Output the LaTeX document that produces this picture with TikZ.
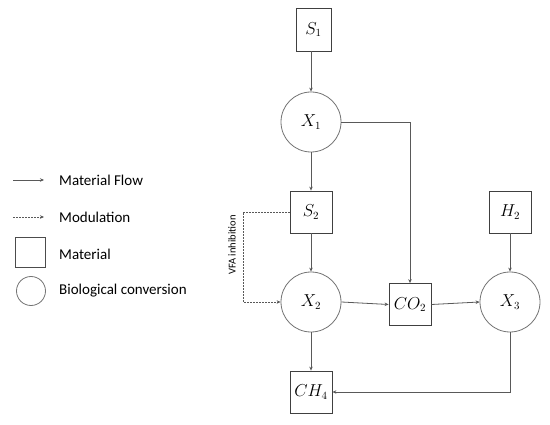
\documentclass[tikz,border=0pt]{standalone}
\usepackage{fontspec}
\setmainfont{Carlito}
\usetikzlibrary{arrows.meta}
\tikzset{
  ln/.style={draw=black!65, line width=0.8pt},
  flow/.style={ln, -{Stealth[length=4pt,width=3.5pt]}},
  modl/.style={draw=black!65, line width=0.7pt, dash pattern=on 1.5pt off 1.5pt, -{Stealth[length=4pt,width=3.5pt]}},
  mat/.style={draw=black!75, line width=0.8pt, minimum width=42pt, minimum height=42pt, inner sep=0pt, font=\fontsize{16}{19}\selectfont},
  bio/.style={draw=black!55, line width=0.8pt, circle, minimum size=60pt, inner sep=0pt, font=\fontsize{16}{19}\selectfont},
  lg/.style={anchor=west, font=\fontsize{15}{17}\selectfont, inner sep=0pt}
}
\begin{document}
\begin{tikzpicture}[x=1pt,y=-1pt]
\useasboundingbox (0,0) rectangle (550,425);
% nodes
\node[mat, minimum width=35pt, minimum height=43pt] (S1) at (313.5,29.5) {$S_1$};
\node[bio] (X1) at (311,122) {$X_1$};
\node[mat] (S2) at (311,212) {$S_2$};
\node[bio] (X2) at (311,302) {$X_2$};
\node[mat] (CO2) at (410,304.5) {$CO_2$};
\node[bio] (X3) at (510,302) {$X_3$};
\node[mat] (H2) at (510,212) {$H_2$};
\node[mat] (CH4) at (311,392) {$CH_4$};
% connectors
\draw[flow] (X1.north |- S1.south) -- (X1.north);
\draw[flow] (X1.south) -- (S2.north);
\draw[flow] (S2.south) -- (X2.north);
\draw[flow] (X2.south) -- (CH4.north);
\draw[flow] (X1.east) -| (CO2.north);
\draw[flow] (X2.east) -- (CO2.west);
\draw[flow] (CO2.east) -- (X3.west);
\draw[flow] (H2.south) -- (X3.north);
\draw[flow] (X3.south) |- (CH4.east);
\coordinate (dk) at (243,212);
\draw[modl] (S2.west) -- (dk) |- (X2.west);
\node[rotate=90, font=\fontsize{10.5}{12}\selectfont, inner sep=0pt] (vfa) at (232,245) {VFA inhibition};
% legend
\coordinate (a1) at (13,180);
\coordinate (a2) at (44,180);
\draw[flow, line width=0.6pt] (a1) -- (a2);
\node[lg] (t1) at (59,180) {Material Flow};
\coordinate (b1) at (13,217);
\coordinate (b2) at (44,217);
\draw[modl, line width=0.5pt] (b1) -- (b2);
\node[lg] (t2) at (59,217) {Modulation};
\node[draw=black!70, line width=0.8pt, minimum size=30pt, inner sep=0pt] (lm) at (30,252) {};
\node[lg] (t3) at (59,254) {Material};
\node[draw=black!55, line width=0.8pt, circle, minimum size=29pt, inner sep=0pt] (lb) at (31,291) {};
\node[lg] (t4) at (59,291) {Biological conversion};
\end{tikzpicture}
\end{document}
